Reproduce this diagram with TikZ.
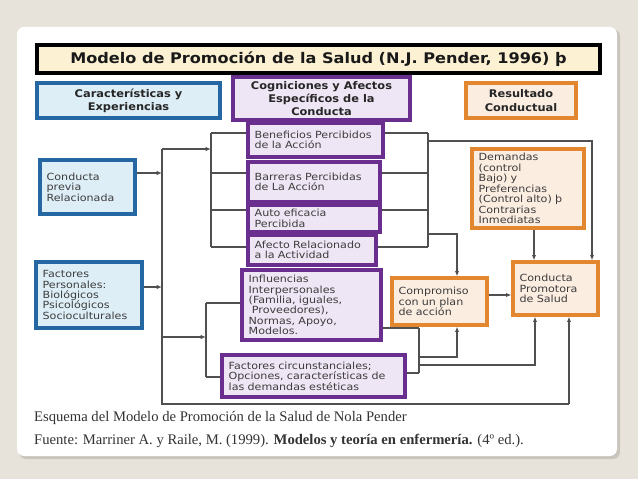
\documentclass[tikz,border=0pt]{standalone}
\usepackage{fontspec}
\setmainfont{DejaVu Sans}
\newfontfamily\pdbody[FakeStretch=1.13]{DejaVu Sans}
\newfontfamily\pdhead[FakeStretch=1.08]{DejaVu Sans}
\newfontfamily\pdtop[FakeStretch=1.1]{DejaVu Sans}
\newfontfamily\pdserif{Liberation Serif}
\usepackage{tikz}
\usetikzlibrary{arrows.meta,positioning}
\definecolor{pdPage}{HTML}{E7E3DB}
\definecolor{pdShadow}{HTML}{C9C5BD}
\definecolor{pdInk}{HTML}{3C3C3C}
\definecolor{pdLine}{HTML}{505050}
\definecolor{pdTitle}{HTML}{FCF1D3}
\definecolor{pdBlue}{HTML}{2567A2}
\definecolor{pdBlueFill}{HTML}{DDEEF7}
\definecolor{pdPurple}{HTML}{6A2E8F}
\definecolor{pdPurpleFill}{HTML}{EFE6F5}
\definecolor{pdOrange}{HTML}{E2862F}
\definecolor{pdOrangeFill}{HTML}{FCEDE1}
\tikzset{
  pd diagram/.style={font=\pdbody\fontsize{8.4}{8.9}\selectfont, text=pdInk},
  pd box/.style={line width=2.8pt, align=left, inner xsep=0.2cm,
    inner ysep=1pt},
  pd blue/.style={pd box, draw=pdBlue, fill=pdBlueFill},
  pd purple/.style={pd box, draw=pdPurple, fill=pdPurpleFill},
  pd orange/.style={pd box, draw=pdOrange, fill=pdOrangeFill},
  pd head/.style={align=center, text=black!85,
    font=\pdhead\fontsize{9}{11.3}\selectfont\bfseries},
  pd size/.style n args={3}{minimum width=#1cm, minimum height=#2cm,
    text width=#3cm},
  pd title/.style={draw=black, line width=3.8pt, fill=pdTitle,
    minimum width=16.89cm, minimum height=0.84cm,
    font=\pdtop\fontsize{12.5}{14}\selectfont\bfseries, text=black!90},
  pd line/.style={draw=pdLine, line width=0.9pt},
  pd arrow/.style={pd line, -{Latex[length=1.6mm,width=1.3mm]}},
  pd caption/.style={anchor=west, text=black!80,
    font=\pdserif\fontsize{12.5}{14}\selectfont}
}
\begin{document}
\begin{tikzpicture}[pd diagram, x=0.03cm, y=-0.03cm]
\fill[pdPage] (0,0) rectangle (638,479);
\useasboundingbox (0,0) rectangle (638,479);
\fill[pdShadow, rounded corners=6pt] (19,29) rectangle (620,459);
\fill[white, rounded corners=6pt] (17,27) rectangle (617,456);

% titulo y encabezados
\node[pd title] (titulo) at (318.5,59)
  {Modelo de Promoción de la Salud (N.J. Pender, 1996) þ};
\node[pd blue, pd head, minimum width=5.49cm, minimum height=1.05cm]
  (hCarac) at (128.5,100.5) {Características y\\Experiencias};
\node[pd purple, pd head, minimum width=5.31cm, minimum height=1.29cm]
  (hCogn) at (321.5,98.5) {Cogniciones y Afectos\\Específicos de la\\Conducta};
\node[pd orange, pd head, minimum width=3.3cm, minimum height=1.05cm]
  (hResul) at (521,100.5) {Resultado\\Conductual};

% columna izquierda
\node[pd blue, pd size={2.85}{1.62}{2.45}] (previa) at (87.5,187)
  {Conducta\\previa\\Relacionada};
\node[pd blue, pd size={3.18}{1.98}{2.78}] (personales) at (89,295)
  {Factores\\Personales:\\Biológicos\\Psicológicos\\Socioculturales};

% columna central
\node[pd purple, pd size={4.05}{1.02}{3.65}] (benef) at (315.5,140)
  {Beneficios Percibidos\\de la Acción};
\node[pd purple, pd size={3.96}{1.2}{3.56}] (barr) at (314,182)
  {Barreras Percibidas\\de La Acción};
\node[pd purple, pd size={3.96}{0.81}{3.56}] (auto) at (314,218.5)
  {Auto eficacia\\Percibida};
\node[pd purple, pd size={3.84}{0.9}{3.44}] (afecto) at (312,250)
  {Afecto Relacionado\\a la Actividad};
\node[pd purple, pd size={4.17}{2.1}{3.77}] (influ) at (311.5,305)
  {Influencias\\Interpersonales\\(Familia, iguales,\\\ Proveedores),\\Normas, Apoyo,\\Modelos.};
\node[pd purple, pd size={5.49}{1.26}{5.09}] (circ) at (313.5,376)
  {Factores circunstanciales;\\Opciones, características de\\las demandas estéticas};

% columna derecha
\node[pd orange, pd size={3.36}{2.37}{2.96}] (demandas) at (528,188.5)
  {Demandas\\(control\\Bajo) y\\Preferencias\\(Control alto) þ\\Contrarias\\Inmediatas};
\node[pd orange, pd size={2.85}{1.41}{2.45}] (compromiso) at (439.5,301.5)
  {Compromiso\\con un plan\\de acción};
\node[pd orange, pd size={2.55}{1.59}{2.15}] (promotora) at (555.5,288.5)
  {Conducta\\Promotora\\de Salud};

% puntos de union
\coordinate (tronco) at (162,149);
\coordinate (troncoFin) at (162,404);
\coordinate (pie) at (569,404);
\coordinate (llaveA1) at (211,133);
\coordinate (llaveA2) at (211,173);
\coordinate (llaveA3) at (211,210);
\coordinate (llaveA4) at (211,247);
\coordinate (llaveB1) at (428,133);
\coordinate (llaveB2) at (428,173);
\coordinate (llaveB3) at (428,210);
\coordinate (llaveB4) at (428,247);
\coordinate (llaveC1) at (206,303);
\coordinate (llaveC2) at (206,377);
\coordinate (llaveD1) at (419,328);
\coordinate (llaveD2) at (419,373);
\coordinate (arriba) at (592,141);
\coordinate (haciaComp) at (457,234);
\coordinate (desdeD1) at (457,357);
\coordinate (desdeD2) at (535,365);
\coordinate (demX) at (534,0);

% conectores
\draw[pd line] (tronco) -- (troncoFin) -- (pie);
\draw[pd arrow] (pie) -- (pie |- promotora.south);
\draw[pd arrow] (previa.east |- llaveA2) -- (tronco |- llaveA2);
\draw[pd arrow] (personales.east |- 0,287) -- (tronco |- 0,287);
\draw[pd arrow] (tronco) -- (tronco -| llaveA1);
\draw[pd arrow] (tronco |- 0,337) -- (llaveC1 |- 0,337);
\draw[pd line] (llaveA1) -- (llaveA4);
\draw[pd line] (llaveB1) -- (llaveB4);
\draw[pd line] (llaveC1) -- (llaveC2);
\draw[pd line] (llaveD1) -- (llaveD2);
\foreach \n/\b in {1/benef,2/barr,3/auto,4/afecto} {
  \draw[pd line] (llaveA\n) -- (llaveA\n -| \b.west);
  \draw[pd line] (llaveB\n -| \b.east) -- (llaveB\n);
}
\draw[pd line] (llaveC1) -- (llaveC1 -| influ.west);
\draw[pd line] (llaveC2) -- (llaveC2 -| circ.west);
\draw[pd line] (llaveD1 -| influ.east) -- (llaveD1);
\draw[pd line] (llaveD2 -| circ.east) -- (llaveD2);
\draw[pd arrow] (llaveB1 |- arriba) -- (arriba) -- (arriba |- promotora.north);
\draw[pd arrow] (llaveB1 |- haciaComp) -- (haciaComp) -- (haciaComp |- compromiso.north);
\draw[pd arrow] (llaveD1 |- desdeD1) -- (desdeD1) -- (desdeD1 |- compromiso.south);
\draw[pd arrow] (llaveD1 |- desdeD2) -- (desdeD2) -- (desdeD2 |- promotora.south);
\draw[pd arrow] (demX |- demandas.south) -- (demX |- promotora.north);
\draw[pd arrow] (compromiso.east |- 0,295) -- (promotora.west |- 0,295);

% pie de figura
\node[pd caption] (esquema) at (30,418)
  {Esquema del Modelo de Promoción de la Salud de Nola Pender};
\node[pd caption] (fuente) at (30,441)
  {Fuente: Marriner A. y Raile, M. (1999). \textbf{Modelos y teoría en enfermería.} (4º ed.).};
\end{tikzpicture}
\end{document}
